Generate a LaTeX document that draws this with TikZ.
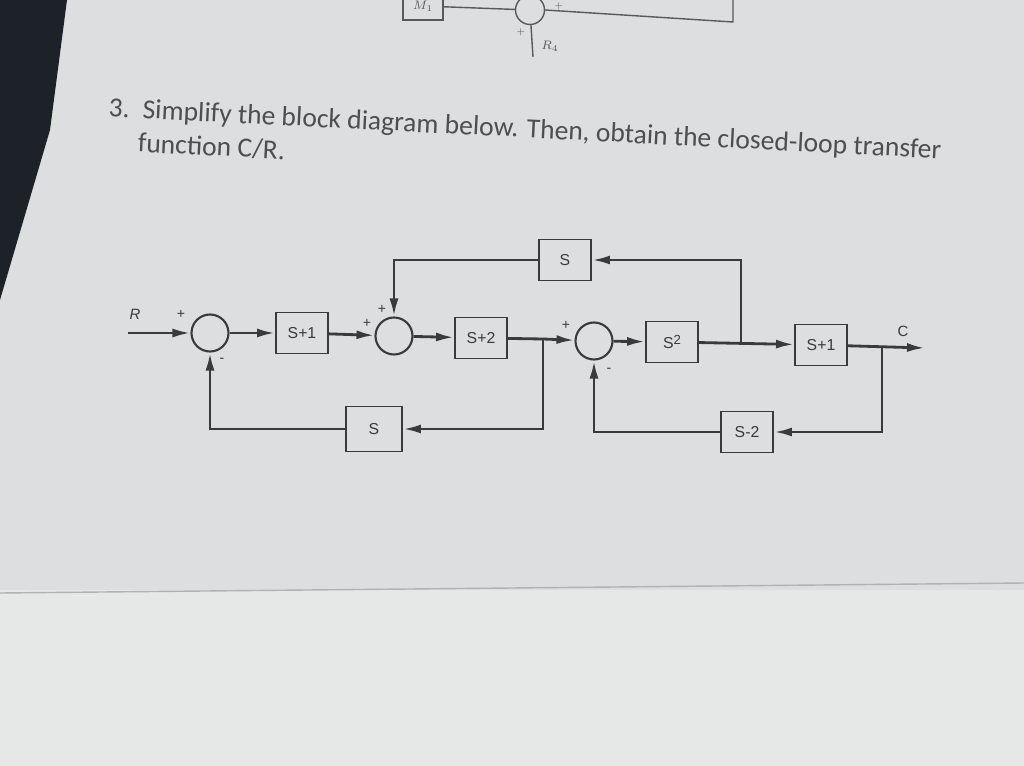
\documentclass[tikz,border=0pt]{standalone}
\usepackage{fontspec}
\setmainfont{Carlito}
\newfontfamily\blockfont{Liberation Sans}
\usetikzlibrary{arrows.meta}
\definecolor{ink}{HTML}{3A3A3A}
\definecolor{paper}{HTML}{DCDEDF}
\definecolor{lowpaper}{HTML}{E6E8E8}
\definecolor{bezel}{HTML}{1C2228}
\tikzstyle{block} = [rectangle, draw=ink, line width=1.1pt, minimum width=1.04cm, minimum height=0.82cm, text=ink, font=\blockfont\fontsize{9}{10}\selectfont]
\tikzstyle{junction} = [circle, draw=ink, line width=1.2pt, minimum size=0.74cm, inner sep=0pt]
\tikzstyle{sign} = [text=ink, inner sep=0pt, font=\blockfont\fontsize{8}{9}\selectfont]
\tikzstyle{wire} = [draw=ink, line width=1.6pt]
\tikzstyle{question} = [text=ink!90, inner sep=0pt, anchor=north west, align=left, rotate=-2.9, font=\fontsize{15.7}{19.3}\selectfont]

\begin{document}
\begin{tikzpicture}[x=0.02cm, y=-0.02cm, >={Latex[length=3.6mm,width=1.8mm]}]
        \useasboundingbox (0,0) rectangle (1024,766);
        % screen background
        \fill[paper] (0,0) rectangle (1024,766);
        \fill[lowpaper] (0,590) rectangle (1024,766);
        \draw[black!30, line width=0.8pt] (0,593) -- (1024,583);
        \fill[bezel] (0,0) -- (67,0) -- (50,130) -- (0,300) -- cycle;

        % cut-off figure of the previous question
        \begin{scope}[black!65, line width=0.8pt]
        \node[draw, rectangle, minimum width=0.8cm, minimum height=0.56cm, inner sep=0pt] (prevblk) at (423,6) {\scriptsize$M_1$};
        \node[draw, circle, minimum size=0.58cm, inner sep=0pt] (prevsum) at (530,10) {};
        \coordinate (prevturn) at (733,22);
        \coordinate (prevtop) at (733,-2);
        \coordinate (previn) at (533,57);
        \draw (prevblk) -- (prevsum);
        \draw (prevsum.east) -- (prevturn) -- (prevtop);
        \draw (previn) -- (prevsum);
        \node[font=\tiny] at (521,32) {$+$};
        \node[font=\tiny] at (559,6) {$+$};
        \node[font=\scriptsize] at (550,46) {$R_4$};
        \end{scope}

        % question text
        \node[question] (question) at (109,97) {\makebox[0.68cm][l]{3.}Simplify the block diagram below. Then, obtain the closed-loop transfer\\
            \hspace*{0.62cm}function C/R.};

        % forward path
        \coordinate (input) at (128,333);
        \node[junction] (sum1) at (210,333) {};
        \node[block] (plant1) at (302,333) {S+1};
        \node[junction] (sum2) at (394,336) {};
        \node[block] (plant2) at (481,338) {S+2};
        \coordinate (tap1) at (543,339);
        \node[junction] (sum3) at (594,341) {};
        \node[block] (plant3) at (672,342) {S\raisebox{0.55ex}{\fontsize{7.5}{8}\selectfont 2}};
        \coordinate (tap2) at (741,343);
        \node[block] (plant4) at (821,345) {S+1};
        \coordinate (tap3) at (882,347);
        \coordinate (output) at (925,348);

        % feedback blocks
        \node[block] (fbtop) at (565,260) {S};
        \node[block, minimum width=1.12cm, minimum height=0.9cm] (fbleft) at (374,429) {S};
        \node[block] (fbright) at (747,432) {S-2};

        \draw[wire, ->] (input) -- (sum1);
        \draw[wire, ->] (sum1) -- (plant1);
        \draw[wire, ->] (plant1) -- (sum2);
        \draw[wire, ->] (sum2) -- (plant2);
        \draw[wire, ->] (plant2) -- (tap1) -- (sum3);
        \draw[wire, ->] (sum3) -- (plant3);
        \draw[wire, ->] (plant3) -- (plant4);
        \draw[wire, ->] (plant4) -- (output);

        \draw[wire, ->] (tap1) |- (fbleft);
        \draw[wire, ->] (fbleft) -| (sum1);
        \draw[wire, ->] (tap2) |- (fbtop);
        \draw[wire, ->] (fbtop) -| (sum2);
        \draw[wire, ->] (tap3) |- (fbright);
        \draw[wire, ->] (fbright) -| (sum3);

        % signals and signs
        \node[sign, font=\blockfont\itshape\fontsize{8.5}{9}\selectfont] (rlabel) at (135,314) {R};
        \node[sign, font=\blockfont\fontsize{8.5}{9}\selectfont] (clabel) at (903,331) {C};
        \node[sign] at (181,314) {+};
        \node[sign] at (222,360) {-};
        \node[sign] at (367,323) {+};
        \node[sign] at (382,309) {+};
        \node[sign] at (566,325) {+};
        \node[sign] at (609,370) {-};
    \end{tikzpicture}
\end{document}
